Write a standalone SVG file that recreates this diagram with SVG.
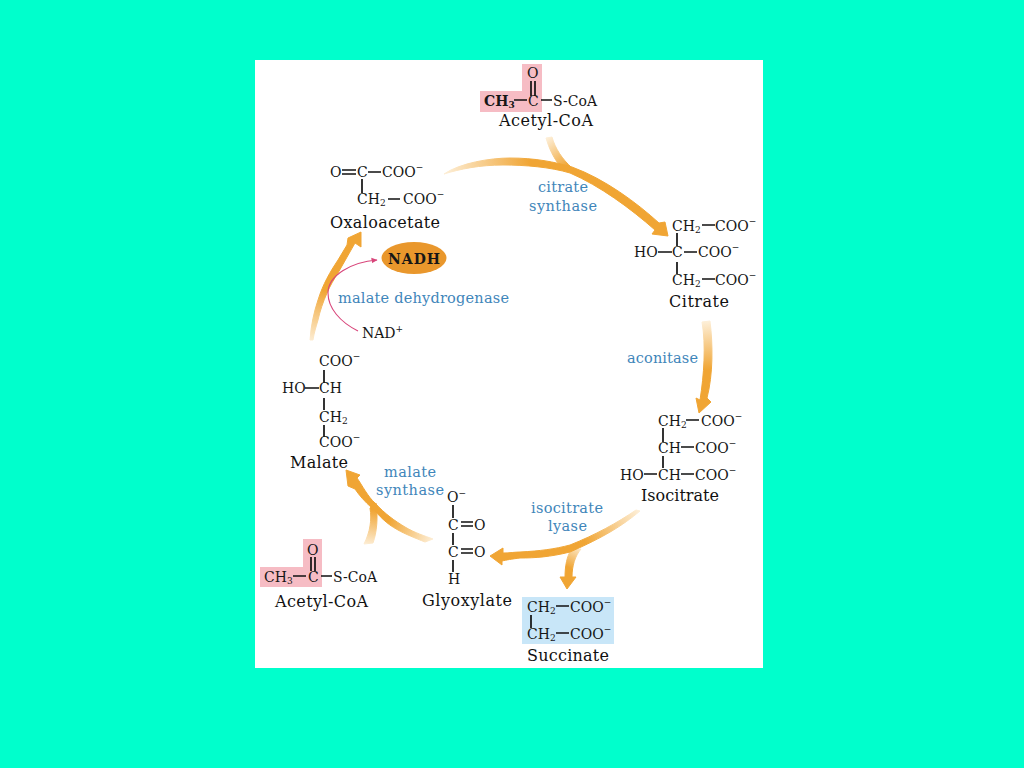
<svg xmlns="http://www.w3.org/2000/svg" width="1024" height="768" viewBox="0 0 1024 768">
<style>
text{font-family:"DejaVu Serif","Liberation Serif",serif;fill:#161616}
.f{font-size:14px}
.l{font-size:16px;fill:#111}
.e{font-size:14.5px;fill:#3f86ba}
.s{font-size:9px}
.m{font-size:9px}
.b{stroke:#111;stroke-width:1.7;fill:none}
.pink{fill:#f6bcc4}
</style>
<defs>
<linearGradient id="g1" gradientUnits="userSpaceOnUse" x1="445" y1="173" x2="530" y2="160"><stop offset="0" stop-color="#fdeed6"/><stop offset="1" stop-color="#f0a534"/></linearGradient>
<linearGradient id="g1b" gradientUnits="userSpaceOnUse" x1="548" y1="138" x2="568" y2="166"><stop offset="0" stop-color="#fdeed6"/><stop offset="1" stop-color="#f0a534"/></linearGradient>
<linearGradient id="g2" gradientUnits="userSpaceOnUse" x1="706" y1="322" x2="708" y2="370"><stop offset="0" stop-color="#fdeed6"/><stop offset="1" stop-color="#f0a534"/></linearGradient>
<linearGradient id="g3" gradientUnits="userSpaceOnUse" x1="638" y1="510" x2="585" y2="542"><stop offset="0" stop-color="#fdeed6"/><stop offset="1" stop-color="#f0a534"/></linearGradient>
<linearGradient id="g3b" gradientUnits="userSpaceOnUse" x1="579" y1="549" x2="570" y2="568"><stop offset="0" stop-color="#fbe3bd"/><stop offset="1" stop-color="#f0a534"/></linearGradient>
<linearGradient id="g4" gradientUnits="userSpaceOnUse" x1="433" y1="540" x2="390" y2="518"><stop offset="0" stop-color="#fdeed6"/><stop offset="1" stop-color="#f0a534"/></linearGradient>
<linearGradient id="g4b" gradientUnits="userSpaceOnUse" x1="367" y1="545" x2="373" y2="510"><stop offset="0" stop-color="#fdeed6"/><stop offset="1" stop-color="#f0a534"/></linearGradient>
<linearGradient id="g5" gradientUnits="userSpaceOnUse" x1="311" y1="342" x2="322" y2="290"><stop offset="0" stop-color="#fdeed6"/><stop offset="1" stop-color="#f0a534"/></linearGradient>
<marker id="ph" markerWidth="6" markerHeight="6" refX="5" refY="3" orient="auto"><path d="M0,0.5L5.5,3L0,5.5z" fill="#d8457a"/></marker>
</defs>
<rect width="1024" height="768" fill="#00ffcc"/>
<rect x="255" y="60" width="508" height="608" fill="#fff"/>

<g id="connectors" stroke-width="1" stroke-linejoin="round">
<path fill="url(#g1b)" stroke="url(#g1b)" d="M546,138L552,137C555,148 562,159 572,168L560,166C553,157 549,148 546,138z"/>
<path fill="url(#g1)" stroke="url(#g1)" d="M444,174C460,163 490,158 510,158C535,158 555,162 572,167C605,179 637,203 659,223L665,222L668,236L652,234L655,230C630,208 600,186 570,173C550,167 525,165 503,165C480,165 460,169 444,174z"/>
<path fill="url(#g2)" stroke="url(#g2)" d="M702,322L710,321C713,345 713,375 707,398L711,402L699,413L696,398L700,400C704,375 706,345 702,322z"/>
<path fill="url(#g3b)" stroke="url(#g3b)" d="M571,550L581,549C575,556 572,566 572,577H576L567,589L560,577H565C565,566 567,556 571,550z"/>
<path fill="url(#g3)" stroke="url(#g3)" d="M636,510L640,511C622,526 604,537 570,552C550,557 535,558 520,558C512,559 506,560 502,561L502,565L490,556L503,548L503,553C510,553 515,552 520,552C540,551 555,549 570,545C595,535 617,523 636,510z"/>
<path fill="url(#g4b)" stroke="url(#g4b)" d="M364,544C370,532 372,520 370,508L376,503C378,517 377,532 373,543z"/>
<path fill="url(#g4)" stroke="url(#g4)" d="M433,539L425,542C415,538 405,534 398,530C385,523 380,516 372,508C365,502 359,495 355,489L348,486L346,470L360,475L357,478C362,485 368,497 375,503C385,514 395,521 405,527C415,533 425,536 433,539z"/>
<path fill="url(#g5)" stroke="url(#g5)" d="M310,340C311,325 314,312 318,300C323,284 330,272 338,260C341,255 344,250 347,245L348,238L361,232L361,247L355,243C349,253 344,263 338,273C334,279 330,286 327,293C323,302 320,311 318,320C316,327 314,333 313,340z"/>
<path d="M358,331C340,322 328,308 328,293C328,275 352,262 377,260" fill="none" stroke="#d8457a" stroke-width="1.1" marker-end="url(#ph)"/>
</g>

<g id="acetyl-coa-top">
<path class="pink" d="M522,64H542V112H480V91H522z"/>
<path class="b" d="M531,81V96M535,81V96M514,100H527M541,100H552"/>
<text class="f" x="527" y="78">O</text>
<text class="f" x="484" y="106" font-weight="bold">CH<tspan class="s" dy="2">3</tspan></text>
<text class="f" x="528" y="106">C</text>
<text class="f" x="553" y="106" textLength="44">S-CoA</text>
<text class="l" x="499" y="126" textLength="94">Acetyl-CoA</text>
</g>

<g id="citrate-synthase-label">
<text class="e" x="538" y="192" textLength="50">citrate</text>
<text class="e" x="529" y="211" textLength="68">synthase</text>
</g>

<g id="citrate">
<path class="b" d="M702,225H715M658,252H672M684,252H697M702,279H715M677,233V246M677,262V274"/>
<text class="f" x="672" y="231">CH<tspan class="s" dy="2">2</tspan></text>
<text class="f" x="715" y="231">COO<tspan class="m" dy="-7">−</tspan></text>
<text class="f" x="634" y="257">HO</text>
<text class="f" x="672" y="257">C</text>
<text class="f" x="698" y="257">COO<tspan class="m" dy="-7">−</tspan></text>
<text class="f" x="672" y="285">CH<tspan class="s" dy="2">2</tspan></text>
<text class="f" x="715" y="285">COO<tspan class="m" dy="-7">−</tspan></text>
<text class="l" x="669" y="307" textLength="60">Citrate</text>
</g>

<g id="aconitase-label"><text class="e" x="627" y="363" textLength="71">aconitase</text></g>

<g id="isocitrate">
<path class="b" d="M686,420H699M681,447H694M644,474H657M681,474H694M663,428V442M663,456V468"/>
<text class="f" x="658" y="426">CH<tspan class="s" dy="2">2</tspan></text>
<text class="f" x="701" y="426">COO<tspan class="m" dy="-7">−</tspan></text>
<text class="f" x="658" y="453">CH</text>
<text class="f" x="695" y="453">COO<tspan class="m" dy="-7">−</tspan></text>
<text class="f" x="620" y="480">HO</text>
<text class="f" x="658" y="480">CH</text>
<text class="f" x="695" y="480">COO<tspan class="m" dy="-7">−</tspan></text>
<text class="l" x="641" y="501" textLength="78">Isocitrate</text>
</g>

<g id="isocitrate-lyase-label">
<text class="e" x="531" y="513" textLength="72">isocitrate</text>
<text class="e" x="548" y="531" textLength="39">lyase</text>
</g>

<g id="succinate">
<rect x="522" y="597" width="92" height="47" fill="#c8e6f8"/>
<path class="b" d="M556,606H569M556,633H569M531,615V628"/>
<text class="f" x="527" y="612">CH<tspan class="s" dy="2">2</tspan></text>
<text class="f" x="570" y="612">COO<tspan class="m" dy="-7">−</tspan></text>
<text class="f" x="527" y="639">CH<tspan class="s" dy="2">2</tspan></text>
<text class="f" x="570" y="639">COO<tspan class="m" dy="-7">−</tspan></text>
<text class="l" x="527" y="661" textLength="82">Succinate</text>
</g>

<g id="glyoxylate">
<path class="b" d="M453,505V518M453,533V545M453,560V572M461,522H473M461,526H473M461,549H473M461,553H473"/>
<text class="f" x="447" y="502">O<tspan class="m" dy="-6">−</tspan></text>
<text class="f" x="448" y="530">C</text>
<text class="f" x="474" y="530">O</text>
<text class="f" x="448" y="557">C</text>
<text class="f" x="474" y="557">O</text>
<text class="f" x="448" y="584">H</text>
<text class="l" x="422" y="606" textLength="90">Glyoxylate</text>
</g>

<g id="malate-synthase-label">
<text class="e" x="384" y="477" textLength="52">malate</text>
<text class="e" x="376" y="495" textLength="68">synthase</text>
</g>

<g id="acetyl-coa-bottom">
<path class="pink" d="M303,539H322V587H260V567H303z"/>
<path class="b" d="M311,557V571M315,557V571M293,576H306M321,576H332"/>
<text class="f" x="307" y="555">O</text>
<text class="f" x="264" y="582">CH<tspan class="s" dy="2">3</tspan></text>
<text class="f" x="308" y="582">C</text>
<text class="f" x="333" y="582" textLength="44">S-CoA</text>
<text class="l" x="275" y="607" textLength="93">Acetyl-CoA</text>
</g>

<g id="malate">
<path class="b" d="M305,388H319M324,370V383M324,398V410M324,425V437"/>
<text class="f" x="319" y="366">COO<tspan class="m" dy="-7">−</tspan></text>
<text class="f" x="282" y="393">HO</text>
<text class="f" x="319" y="393">CH</text>
<text class="f" x="319" y="422">CH<tspan class="s" dy="2">2</tspan></text>
<text class="f" x="319" y="447">COO<tspan class="m" dy="-7">−</tspan></text>
<text class="l" x="290" y="468" textLength="58">Malate</text>
</g>

<g id="oxaloacetate">
<path class="b" d="M342,170H356M342,174H356M368,172H381M388,199H400M362,179V193"/>
<text class="f" x="330" y="177">O</text>
<text class="f" x="357" y="177">C</text>
<text class="f" x="382" y="177">COO<tspan class="m" dy="-7">−</tspan></text>
<text class="f" x="357" y="204">CH<tspan class="s" dy="2">2</tspan></text>
<text class="f" x="403" y="204">COO<tspan class="m" dy="-7">−</tspan></text>
<text class="l" x="330" y="228" textLength="110">Oxaloacetate</text>
</g>

<g id="nadh">
<ellipse cx="414" cy="258" rx="32.5" ry="16" fill="#e9972c"/>
<text class="f" x="388" y="264" font-weight="bold" textLength="52">NADH</text>
</g>
<g id="malate-dehydrogenase-label"><text class="e" x="338" y="303" textLength="171">malate dehydrogenase</text></g>
<g id="nad"><text class="f" x="362" y="338">NAD<tspan class="s" dy="-6">+</tspan></text></g>
</svg>
